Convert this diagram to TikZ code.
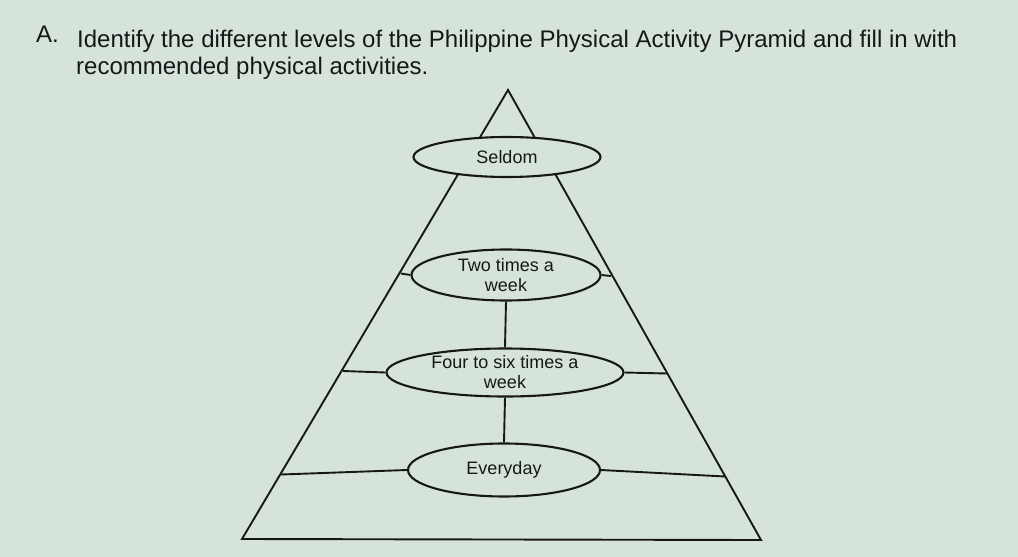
\documentclass[tikz,border=0pt]{standalone}
\usepackage{fontspec}
\setmainfont{Liberation Sans}
\usetikzlibrary{shapes.geometric}
\definecolor{paper}{RGB}{214,227,219}
\definecolor{ink}{RGB}{22,24,23}
\begin{document}
\begin{tikzpicture}[x=1pt,y=-1pt,
  edge/.style={draw=ink,line width=1.9pt,line join=miter},
  bubble/.style={ellipse,draw=ink,line width=2.1pt,fill=paper,inner sep=0pt,
    text=ink,font=\fontsize{18}{20}\selectfont,align=center},
  heading/.style={anchor=base west,inner sep=0pt,text=ink,
    font=\fontsize{24}{28}\selectfont}]
\useasboundingbox[fill=paper] (0,0) rectangle (1018,557);
% heading
\node[heading] (hA) at (36,42) {A.};
\node[heading] (h1) at (77,47) {Identify the different levels of the Philippine Physical Activity Pyramid and fill in with};
\node[heading] (h2) at (76,74) {recommended physical activities.};
% pyramid corners
\coordinate (apex) at (508,90);
\coordinate (baseL) at (242,539);
\coordinate (baseR) at (761,540);
\draw[edge] (baseL) -- (apex) -- (baseR) -- cycle;
% level boundaries on the sides
\coordinate (L2) at (401,273.5);
\coordinate (R2) at (611,276);
\coordinate (L3) at (343,371);
\coordinate (R3) at (667,373.5);
\coordinate (L4) at (281,474.5);
\coordinate (R4) at (725,476.5);
% ellipses
\node[bubble,minimum width=187pt,minimum height=40pt] (seldom) at (507,157) {Seldom};
\node[bubble,minimum width=189pt,minimum height=51pt] (two) at (506,275) {Two times a\\week};
\node[bubble,minimum width=237pt,minimum height=48pt] (four) at (505,372.5) {Four to six times a\\week};
\node[bubble,minimum width=192pt,minimum height=53pt] (every) at (504,470) {Everyday};
% connectors
\draw[edge] (L2) -- (two.west);
\draw[edge] (two.east) -- (R2);
\draw[edge] (L3) -- (four.west);
\draw[edge] (four.east) -- (R3);
\draw[edge] (L4) -- (every.west);
\draw[edge] (every.east) -- (R4);
\draw[edge] (two.south) -- (four.north);
\draw[edge] (four.south) -- (every.north);
\end{tikzpicture}
\end{document}
